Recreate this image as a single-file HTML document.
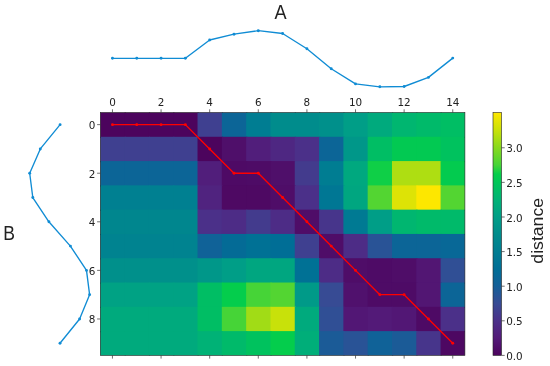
<!DOCTYPE html><html><head><meta charset="utf-8"><title>DTW</title>
<style>html,body{margin:0;padding:0;background:#fff}body{width:550px;height:366px;overflow:hidden}svg{display:block}text{fill:#222}.tk{font-family:"DejaVu Sans","Liberation Sans",sans-serif;font-size:10.4px}.lb{font-family:"Liberation Sans",sans-serif}</style></head><body>
<svg width="550" height="366" viewBox="0 0 550 366">
<rect width="550" height="366" fill="#fff"/>
<g>
<rect x="100.30" y="112.50" width="25.51" height="25.49" fill="#4c045d"/>
<rect x="124.61" y="112.50" width="25.51" height="25.49" fill="#4c045d"/>
<rect x="148.91" y="112.50" width="25.51" height="25.49" fill="#4c045d"/>
<rect x="173.22" y="112.50" width="25.51" height="25.49" fill="#4c045d"/>
<rect x="197.53" y="112.50" width="25.51" height="25.49" fill="#3f4090"/>
<rect x="221.83" y="112.50" width="25.51" height="25.49" fill="#0c6597"/>
<rect x="246.14" y="112.50" width="25.51" height="25.49" fill="#007d92"/>
<rect x="270.45" y="112.50" width="25.51" height="25.49" fill="#008c8c"/>
<rect x="294.75" y="112.50" width="25.51" height="25.49" fill="#008c8c"/>
<rect x="319.06" y="112.50" width="25.51" height="25.49" fill="#00908b"/>
<rect x="343.37" y="112.50" width="25.51" height="25.49" fill="#009e87"/>
<rect x="367.67" y="112.50" width="25.51" height="25.49" fill="#00aa7d"/>
<rect x="391.98" y="112.50" width="25.51" height="25.49" fill="#00b670"/>
<rect x="416.29" y="112.50" width="25.51" height="25.49" fill="#00ba6a"/>
<rect x="440.59" y="112.50" width="24.31" height="25.49" fill="#00be64"/>
<rect x="100.30" y="136.79" width="25.51" height="25.49" fill="#3f4090"/>
<rect x="124.61" y="136.79" width="25.51" height="25.49" fill="#3f4090"/>
<rect x="148.91" y="136.79" width="25.51" height="25.49" fill="#3f4090"/>
<rect x="173.22" y="136.79" width="25.51" height="25.49" fill="#3f4090"/>
<rect x="197.53" y="136.79" width="25.51" height="25.49" fill="#4c045d"/>
<rect x="221.83" y="136.79" width="25.51" height="25.49" fill="#4f0f6a"/>
<rect x="246.14" y="136.79" width="25.51" height="25.49" fill="#511e7b"/>
<rect x="270.45" y="136.79" width="25.51" height="25.49" fill="#4e2782"/>
<rect x="294.75" y="136.79" width="25.51" height="25.49" fill="#4b3089"/>
<rect x="319.06" y="136.79" width="25.51" height="25.49" fill="#0c6597"/>
<rect x="343.37" y="136.79" width="25.51" height="25.49" fill="#009789"/>
<rect x="367.67" y="136.79" width="25.51" height="25.49" fill="#00be64"/>
<rect x="391.98" y="136.79" width="25.51" height="25.49" fill="#02c952"/>
<rect x="416.29" y="136.79" width="25.51" height="25.49" fill="#02c952"/>
<rect x="440.59" y="136.79" width="24.31" height="25.49" fill="#00c25e"/>
<rect x="100.30" y="161.08" width="25.51" height="25.49" fill="#0c6597"/>
<rect x="124.61" y="161.08" width="25.51" height="25.49" fill="#0c6597"/>
<rect x="148.91" y="161.08" width="25.51" height="25.49" fill="#0c6597"/>
<rect x="173.22" y="161.08" width="25.51" height="25.49" fill="#0c6597"/>
<rect x="197.53" y="161.08" width="25.51" height="25.49" fill="#511e7b"/>
<rect x="221.83" y="161.08" width="25.51" height="25.49" fill="#4e0a65"/>
<rect x="246.14" y="161.08" width="25.51" height="25.49" fill="#4e0b66"/>
<rect x="270.45" y="161.08" width="25.51" height="25.49" fill="#4f0f6a"/>
<rect x="294.75" y="161.08" width="25.51" height="25.49" fill="#433b8d"/>
<rect x="319.06" y="161.08" width="25.51" height="25.49" fill="#007d92"/>
<rect x="343.37" y="161.08" width="25.51" height="25.49" fill="#00a87f"/>
<rect x="367.67" y="161.08" width="25.51" height="25.49" fill="#0fcf47"/>
<rect x="391.98" y="161.08" width="25.51" height="25.49" fill="#aede12"/>
<rect x="416.29" y="161.08" width="25.51" height="25.49" fill="#aede12"/>
<rect x="440.59" y="161.08" width="24.31" height="25.49" fill="#03cb4f"/>
<rect x="100.30" y="185.37" width="25.51" height="25.49" fill="#008091"/>
<rect x="124.61" y="185.37" width="25.51" height="25.49" fill="#008091"/>
<rect x="148.91" y="185.37" width="25.51" height="25.49" fill="#008091"/>
<rect x="173.22" y="185.37" width="25.51" height="25.49" fill="#008091"/>
<rect x="197.53" y="185.37" width="25.51" height="25.49" fill="#50237f"/>
<rect x="221.83" y="185.37" width="25.51" height="25.49" fill="#4e0963"/>
<rect x="246.14" y="185.37" width="25.51" height="25.49" fill="#4e0963"/>
<rect x="270.45" y="185.37" width="25.51" height="25.49" fill="#4f0d68"/>
<rect x="294.75" y="185.37" width="25.51" height="25.49" fill="#4b3089"/>
<rect x="319.06" y="185.37" width="25.51" height="25.49" fill="#007794"/>
<rect x="343.37" y="185.37" width="25.51" height="25.49" fill="#00a680"/>
<rect x="367.67" y="185.37" width="25.51" height="25.49" fill="#53d532"/>
<rect x="391.98" y="185.37" width="25.51" height="25.49" fill="#dde306"/>
<rect x="416.29" y="185.37" width="25.51" height="25.49" fill="#fde700"/>
<rect x="440.59" y="185.37" width="24.31" height="25.49" fill="#53d532"/>
<rect x="100.30" y="209.66" width="25.51" height="25.49" fill="#00868e"/>
<rect x="124.61" y="209.66" width="25.51" height="25.49" fill="#00868e"/>
<rect x="148.91" y="209.66" width="25.51" height="25.49" fill="#00868e"/>
<rect x="173.22" y="209.66" width="25.51" height="25.49" fill="#00868e"/>
<rect x="197.53" y="209.66" width="25.51" height="25.49" fill="#4b3089"/>
<rect x="221.83" y="209.66" width="25.51" height="25.49" fill="#4d2c86"/>
<rect x="246.14" y="209.66" width="25.51" height="25.49" fill="#433b8d"/>
<rect x="270.45" y="209.66" width="25.51" height="25.49" fill="#4d2c86"/>
<rect x="294.75" y="209.66" width="25.51" height="25.49" fill="#4f0d68"/>
<rect x="319.06" y="209.66" width="25.51" height="25.49" fill="#47358b"/>
<rect x="343.37" y="209.66" width="25.51" height="25.49" fill="#007a93"/>
<rect x="367.67" y="209.66" width="25.51" height="25.49" fill="#009e87"/>
<rect x="391.98" y="209.66" width="25.51" height="25.49" fill="#00b670"/>
<rect x="416.29" y="209.66" width="25.51" height="25.49" fill="#00ba6a"/>
<rect x="440.59" y="209.66" width="24.31" height="25.49" fill="#00ba6a"/>
<rect x="100.30" y="233.95" width="25.51" height="25.49" fill="#008390"/>
<rect x="124.61" y="233.95" width="25.51" height="25.49" fill="#008390"/>
<rect x="148.91" y="233.95" width="25.51" height="25.49" fill="#008390"/>
<rect x="173.22" y="233.95" width="25.51" height="25.49" fill="#008390"/>
<rect x="197.53" y="233.95" width="25.51" height="25.49" fill="#106298"/>
<rect x="221.83" y="233.95" width="25.51" height="25.49" fill="#046b96"/>
<rect x="246.14" y="233.95" width="25.51" height="25.49" fill="#007195"/>
<rect x="270.45" y="233.95" width="25.51" height="25.49" fill="#006e96"/>
<rect x="294.75" y="233.95" width="25.51" height="25.49" fill="#3f4090"/>
<rect x="319.06" y="233.95" width="25.51" height="25.49" fill="#4f0d68"/>
<rect x="343.37" y="233.95" width="25.51" height="25.49" fill="#4d2c86"/>
<rect x="367.67" y="233.95" width="25.51" height="25.49" fill="#295396"/>
<rect x="391.98" y="233.95" width="25.51" height="25.49" fill="#0c6597"/>
<rect x="416.29" y="233.95" width="25.51" height="25.49" fill="#0c6597"/>
<rect x="440.59" y="233.95" width="24.31" height="25.49" fill="#086897"/>
<rect x="100.30" y="258.24" width="25.51" height="25.49" fill="#00908b"/>
<rect x="124.61" y="258.24" width="25.51" height="25.49" fill="#00908b"/>
<rect x="148.91" y="258.24" width="25.51" height="25.49" fill="#00908b"/>
<rect x="173.22" y="258.24" width="25.51" height="25.49" fill="#00908b"/>
<rect x="197.53" y="258.24" width="25.51" height="25.49" fill="#009789"/>
<rect x="221.83" y="258.24" width="25.51" height="25.49" fill="#009e87"/>
<rect x="246.14" y="258.24" width="25.51" height="25.49" fill="#00a680"/>
<rect x="270.45" y="258.24" width="25.51" height="25.49" fill="#00a680"/>
<rect x="294.75" y="258.24" width="25.51" height="25.49" fill="#007195"/>
<rect x="319.06" y="258.24" width="25.51" height="25.49" fill="#4d2c86"/>
<rect x="343.37" y="258.24" width="25.51" height="25.49" fill="#4f0d68"/>
<rect x="367.67" y="258.24" width="25.51" height="25.49" fill="#4e0b66"/>
<rect x="391.98" y="258.24" width="25.51" height="25.49" fill="#4f0d68"/>
<rect x="416.29" y="258.24" width="25.51" height="25.49" fill="#521673"/>
<rect x="440.59" y="258.24" width="24.31" height="25.49" fill="#304f95"/>
<rect x="100.30" y="282.53" width="25.51" height="25.49" fill="#00a284"/>
<rect x="124.61" y="282.53" width="25.51" height="25.49" fill="#00a284"/>
<rect x="148.91" y="282.53" width="25.51" height="25.49" fill="#00a284"/>
<rect x="173.22" y="282.53" width="25.51" height="25.49" fill="#00a284"/>
<rect x="197.53" y="282.53" width="25.51" height="25.49" fill="#00be64"/>
<rect x="221.83" y="282.53" width="25.51" height="25.49" fill="#04cd4c"/>
<rect x="246.14" y="282.53" width="25.51" height="25.49" fill="#46d437"/>
<rect x="270.45" y="282.53" width="25.51" height="25.49" fill="#53d532"/>
<rect x="294.75" y="282.53" width="25.51" height="25.49" fill="#009a88"/>
<rect x="319.06" y="282.53" width="25.51" height="25.49" fill="#374b94"/>
<rect x="343.37" y="282.53" width="25.51" height="25.49" fill="#50116d"/>
<rect x="367.67" y="282.53" width="25.51" height="25.49" fill="#4e0b66"/>
<rect x="391.98" y="282.53" width="25.51" height="25.49" fill="#4e0b66"/>
<rect x="416.29" y="282.53" width="25.51" height="25.49" fill="#521673"/>
<rect x="440.59" y="282.53" width="24.31" height="25.49" fill="#0c6597"/>
<rect x="100.30" y="306.82" width="25.51" height="25.49" fill="#00aa7d"/>
<rect x="124.61" y="306.82" width="25.51" height="25.49" fill="#00aa7d"/>
<rect x="148.91" y="306.82" width="25.51" height="25.49" fill="#00aa7d"/>
<rect x="173.22" y="306.82" width="25.51" height="25.49" fill="#00aa7d"/>
<rect x="197.53" y="306.82" width="25.51" height="25.49" fill="#00be64"/>
<rect x="221.83" y="306.82" width="25.51" height="25.49" fill="#46d437"/>
<rect x="246.14" y="306.82" width="25.51" height="25.49" fill="#a1dc16"/>
<rect x="270.45" y="306.82" width="25.51" height="25.49" fill="#c8e10a"/>
<rect x="294.75" y="306.82" width="25.51" height="25.49" fill="#00aa7d"/>
<rect x="319.06" y="306.82" width="25.51" height="25.49" fill="#304f95"/>
<rect x="343.37" y="306.82" width="25.51" height="25.49" fill="#521775"/>
<rect x="367.67" y="306.82" width="25.51" height="25.49" fill="#531a78"/>
<rect x="391.98" y="306.82" width="25.51" height="25.49" fill="#521775"/>
<rect x="416.29" y="306.82" width="25.51" height="25.49" fill="#4e0a65"/>
<rect x="440.59" y="306.82" width="24.31" height="25.49" fill="#4b3089"/>
<rect x="100.30" y="331.11" width="25.51" height="24.29" fill="#00aa7d"/>
<rect x="124.61" y="331.11" width="25.51" height="24.29" fill="#00aa7d"/>
<rect x="148.91" y="331.11" width="25.51" height="24.29" fill="#00aa7d"/>
<rect x="173.22" y="331.11" width="25.51" height="24.29" fill="#00aa7d"/>
<rect x="197.53" y="331.11" width="25.51" height="24.29" fill="#00b276"/>
<rect x="221.83" y="331.11" width="25.51" height="24.29" fill="#00ba6a"/>
<rect x="246.14" y="331.11" width="25.51" height="24.29" fill="#00c25e"/>
<rect x="270.45" y="331.11" width="25.51" height="24.29" fill="#04cd4c"/>
<rect x="294.75" y="331.11" width="25.51" height="24.29" fill="#00ae79"/>
<rect x="319.06" y="331.11" width="25.51" height="24.29" fill="#1b5b97"/>
<rect x="343.37" y="331.11" width="25.51" height="24.29" fill="#295396"/>
<rect x="367.67" y="331.11" width="25.51" height="24.29" fill="#106298"/>
<rect x="391.98" y="331.11" width="25.51" height="24.29" fill="#1b5b97"/>
<rect x="416.29" y="331.11" width="25.51" height="24.29" fill="#47358b"/>
<rect x="440.59" y="331.11" width="24.31" height="24.29" fill="#4d0862"/>
</g>
<rect x="100.30" y="112.50" width="364.60" height="242.90" fill="none" stroke="#222" stroke-width="0.6"/>
<text class="tk" x="112.45" y="105.8" text-anchor="middle">0</text>
<text class="tk" x="161.07" y="105.8" text-anchor="middle">2</text>
<text class="tk" x="209.68" y="105.8" text-anchor="middle">4</text>
<text class="tk" x="258.29" y="105.8" text-anchor="middle">6</text>
<text class="tk" x="306.91" y="105.8" text-anchor="middle">8</text>
<text class="tk" x="355.52" y="105.8" text-anchor="middle">10</text>
<text class="tk" x="404.13" y="105.8" text-anchor="middle">12</text>
<text class="tk" x="452.75" y="105.8" text-anchor="middle">14</text>
<text class="tk" x="95.4" y="129.14" text-anchor="end">0</text>
<text class="tk" x="95.4" y="177.72" text-anchor="end">2</text>
<text class="tk" x="95.4" y="226.31" text-anchor="end">4</text>
<text class="tk" x="95.4" y="274.88" text-anchor="end">6</text>
<text class="tk" x="95.4" y="323.47" text-anchor="end">8</text>
<defs><linearGradient id="cb" x1="0" y1="1" x2="0" y2="0">
<stop offset="0.0000" stop-color="#4c045d"/>
<stop offset="0.0712" stop-color="#531a78"/>
<stop offset="0.1425" stop-color="#4b3089"/>
<stop offset="0.2137" stop-color="#374b94"/>
<stop offset="0.2849" stop-color="#145f98"/>
<stop offset="0.3561" stop-color="#006e96"/>
<stop offset="0.4274" stop-color="#007d92"/>
<stop offset="0.4986" stop-color="#008c8c"/>
<stop offset="0.5698" stop-color="#009e87"/>
<stop offset="0.6410" stop-color="#00b276"/>
<stop offset="0.7123" stop-color="#00c658"/>
<stop offset="0.7464" stop-color="#05ce4a"/>
<stop offset="0.7835" stop-color="#46d437"/>
<stop offset="0.8547" stop-color="#87d91e"/>
<stop offset="0.9259" stop-color="#c8e10a"/>
<stop offset="1.0000" stop-color="#ffe700"/>
</linearGradient></defs>
<rect x="493.00" y="112.50" width="8.50" height="242.90" fill="url(#cb)" stroke="#222" stroke-width="0.6"/>
<text class="tk" x="506.2" y="359.90">0.0</text>
<text class="tk" x="506.2" y="325.30">0.5</text>
<text class="tk" x="506.2" y="290.70">1.0</text>
<text class="tk" x="506.2" y="256.10">1.5</text>
<text class="tk" x="506.2" y="221.50">2.0</text>
<text class="tk" x="506.2" y="186.89">2.5</text>
<text class="tk" x="506.2" y="152.29">3.0</text>
<path d="M112.45 112.50v-3.2M112.45 355.40v3.2M161.07 112.50v-3.2M161.07 355.40v3.2M209.68 112.50v-3.2M209.68 355.40v3.2M258.29 112.50v-3.2M258.29 355.40v3.2M306.91 112.50v-3.2M306.91 355.40v3.2M355.52 112.50v-3.2M355.52 355.40v3.2M404.13 112.50v-3.2M404.13 355.40v3.2M452.75 112.50v-3.2M452.75 355.40v3.2M100.30 124.64h-3.2M100.30 173.22h-3.2M100.30 221.81h-3.2M100.30 270.38h-3.2M100.30 318.97h-3.2M501.50 355.40h3.2M501.50 320.80h3.2M501.50 286.20h3.2M501.50 251.60h3.2M501.50 217.00h3.2M501.50 182.39h3.2M501.50 147.79h3.2" stroke="#333" stroke-width="0.7" fill="none"/>
<text class="lb" transform="translate(280.5,18.6) scale(0.93,1)" font-size="19.5" text-anchor="middle" fill="#000">A</text>
<text class="lb" transform="translate(9.1,239.6) scale(0.9,1)" font-size="19.5" text-anchor="middle" fill="#000">B</text>
<text class="lb" font-size="17.3" text-anchor="middle" fill="#000" transform="translate(543,230.8) rotate(-90) scale(1.02,1)">distance</text>
<polyline points="112.45,58.30 136.76,58.30 161.07,58.30 185.37,58.30 209.68,40.00 233.99,34.20 258.29,30.70 282.60,33.50 306.91,48.70 331.21,68.70 355.52,83.90 379.83,86.80 404.13,86.50 428.44,77.40 452.75,58.10" fill="none" stroke="#108cd4" stroke-width="1.35" stroke-linejoin="round"/>
<circle cx="112.45" cy="58.30" r="1.45" fill="#108cd4"/>
<circle cx="136.76" cy="58.30" r="1.45" fill="#108cd4"/>
<circle cx="161.07" cy="58.30" r="1.45" fill="#108cd4"/>
<circle cx="185.37" cy="58.30" r="1.45" fill="#108cd4"/>
<circle cx="209.68" cy="40.00" r="1.45" fill="#108cd4"/>
<circle cx="233.99" cy="34.20" r="1.45" fill="#108cd4"/>
<circle cx="258.29" cy="30.70" r="1.45" fill="#108cd4"/>
<circle cx="282.60" cy="33.50" r="1.45" fill="#108cd4"/>
<circle cx="306.91" cy="48.70" r="1.45" fill="#108cd4"/>
<circle cx="331.21" cy="68.70" r="1.45" fill="#108cd4"/>
<circle cx="355.52" cy="83.90" r="1.45" fill="#108cd4"/>
<circle cx="379.83" cy="86.80" r="1.45" fill="#108cd4"/>
<circle cx="404.13" cy="86.50" r="1.45" fill="#108cd4"/>
<circle cx="428.44" cy="77.40" r="1.45" fill="#108cd4"/>
<circle cx="452.75" cy="58.10" r="1.45" fill="#108cd4"/>
<polyline points="60.10,124.64 40.30,148.94 29.70,173.22 32.80,197.51 48.90,221.81 70.40,246.09 86.50,270.38 89.60,294.67 79.60,318.97 60.00,343.25" fill="none" stroke="#108cd4" stroke-width="1.35" stroke-linejoin="round"/>
<circle cx="60.10" cy="124.64" r="1.45" fill="#108cd4"/>
<circle cx="40.30" cy="148.94" r="1.45" fill="#108cd4"/>
<circle cx="29.70" cy="173.22" r="1.45" fill="#108cd4"/>
<circle cx="32.80" cy="197.51" r="1.45" fill="#108cd4"/>
<circle cx="48.90" cy="221.81" r="1.45" fill="#108cd4"/>
<circle cx="70.40" cy="246.09" r="1.45" fill="#108cd4"/>
<circle cx="86.50" cy="270.38" r="1.45" fill="#108cd4"/>
<circle cx="89.60" cy="294.67" r="1.45" fill="#108cd4"/>
<circle cx="79.60" cy="318.97" r="1.45" fill="#108cd4"/>
<circle cx="60.00" cy="343.25" r="1.45" fill="#108cd4"/>
<polyline points="112.45,124.64 136.76,124.64 161.07,124.64 185.37,124.64 209.68,148.94 233.99,173.22 258.29,173.22 282.60,197.51 306.91,221.81 331.21,246.09 355.52,270.38 379.83,294.67 404.13,294.67 428.44,318.97 452.75,343.25" fill="none" stroke="#ff0000" stroke-width="1.35" stroke-linejoin="round"/>
<circle cx="112.45" cy="124.64" r="1.45" fill="#ff0000"/>
<circle cx="136.76" cy="124.64" r="1.45" fill="#ff0000"/>
<circle cx="161.07" cy="124.64" r="1.45" fill="#ff0000"/>
<circle cx="185.37" cy="124.64" r="1.45" fill="#ff0000"/>
<circle cx="209.68" cy="148.94" r="1.45" fill="#ff0000"/>
<circle cx="233.99" cy="173.22" r="1.45" fill="#ff0000"/>
<circle cx="258.29" cy="173.22" r="1.45" fill="#ff0000"/>
<circle cx="282.60" cy="197.51" r="1.45" fill="#ff0000"/>
<circle cx="306.91" cy="221.81" r="1.45" fill="#ff0000"/>
<circle cx="331.21" cy="246.09" r="1.45" fill="#ff0000"/>
<circle cx="355.52" cy="270.38" r="1.45" fill="#ff0000"/>
<circle cx="379.83" cy="294.67" r="1.45" fill="#ff0000"/>
<circle cx="404.13" cy="294.67" r="1.45" fill="#ff0000"/>
<circle cx="428.44" cy="318.97" r="1.45" fill="#ff0000"/>
<circle cx="452.75" cy="343.25" r="1.45" fill="#ff0000"/>
</svg></body></html>
